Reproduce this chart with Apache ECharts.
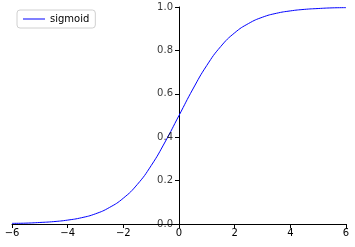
<!DOCTYPE html>
<html>
<head>
<meta charset="utf-8">
<script src="https://cdn.jsdelivr.net/npm/echarts@6/dist/echarts.min.js"></script>
<style>html,body{margin:0;padding:0;background:#fff;}#c{width:355px;height:247px;}</style>
</head>
<body>
<div id="c"></div>
<script>
const xValues = [-6, -5.5, -5, -4.5, -4, -3.5, -3, -2.5, -2, -1.5, -1, -0.5, 0, 0.5, 1, 1.5, 2, 2.5, 3, 3.5, 4, 4.5, 5, 5.5, 6];
const sigmoidValues = [0.003, 0.004, 0.007, 0.011, 0.018, 0.029, 0.047, 0.076, 0.119, 0.182, 0.269, 0.378, 0.5, 0.622, 0.731, 0.818, 0.881, 0.924, 0.953, 0.971, 0.982, 0.989, 0.993, 0.996, 0.997];
const seriesName = 'sigmoid';
const yTickValues = [0, 0.2, 0.4, 0.6, 0.8, 1.0];
const yTickLabels = ['0.0', '0.2', '0.4', '0.6', '0.8', '1.0'];

const W = 355, H = 247;
const gridLeft = 12, gridRight = 9, gridTop = 7, gridBottom = 23;
const xMin = -6, xMax = 6;
const zeroX = gridLeft + (W - gridLeft - gridRight) * (0 - xMin) / (xMax - xMin);
const chart = echarts.init(document.getElementById('c'), null, {renderer: 'canvas'});
const font = 'DejaVu Sans';
chart.setOption({
  animation: false,
  backgroundColor: '#fff',
  grid: [
    {left: gridLeft, right: gridRight, top: gridTop, bottom: gridBottom, containLabel: false, outerBoundsMode: 'none'},
    {left: zeroX, right: gridRight, top: gridTop, bottom: gridBottom, containLabel: false, outerBoundsMode: 'none'}
  ],
  legend: {
    data: [seriesName],
    left: 17, top: 10,
    orient: 'vertical',
    borderColor: '#d0d0d0', borderWidth: 1, borderRadius: 3,
    padding: [4, 6, 4, 6],
    itemWidth: 22, itemHeight: 10, itemGap: 4,
    textStyle: {fontFamily: font, fontSize: 10, color: '#000'},
    icon: 'path://M0,5 L22,5 L22,6 L0,6 Z'
  },
  xAxis: [{
    gridIndex: 0,
    type: 'value', min: xMin, max: xMax, interval: 2,
    axisLine: {onZero: false, lineStyle: {color: '#000', width: 1}},
    axisTick: {show: true, length: 4, lineStyle: {color: '#000'}},
    axisLabel: {fontFamily: font, fontSize: 10, color: '#000', margin: 4,
      formatter: v => String(v).replace('-', '\u2212')},
    splitLine: {show: false}
  }, {
    gridIndex: 1, type: 'value', min: 0, max: xMax, show: false
  }],
  yAxis: [{
    gridIndex: 0,
    type: 'value', min: 0, max: 1, interval: 0.2, show: false
  }, {
    gridIndex: 1,
    type: 'value', min: 0, max: 1, interval: 0.2,
    position: 'left',
    axisLine: {show: true, onZero: false, lineStyle: {color: '#000', width: 1}},
    axisTick: {show: true, inside: false, length: 4, lineStyle: {color: '#000'}},
    axisLabel: {show: false},
    splitLine: {show: false}
  }],
  series: [{
    name: seriesName,
    type: 'line',
    xAxisIndex: 0, yAxisIndex: 0,
    data: xValues.map((x, i) => [x, sigmoidValues[i]]),
    smooth: true,
    showSymbol: false,
    z: 5,
    lineStyle: {color: '#0000ff', width: 1},
    itemStyle: {color: '#0000ff'}
  }, {
    name: 'yTickLabels',
    type: 'scatter',
    xAxisIndex: 0, yAxisIndex: 0,
    data: yTickValues.map((v, i) => ({value: [0, v], label: {formatter: yTickLabels[i]}})),
    symbolSize: 0,
    silent: true,
    z: 6,
    label: {show: true, position: 'left', distance: 6, fontFamily: font, fontSize: 10, color: '#000'}
  }]
});
</script>
</body>
</html>
